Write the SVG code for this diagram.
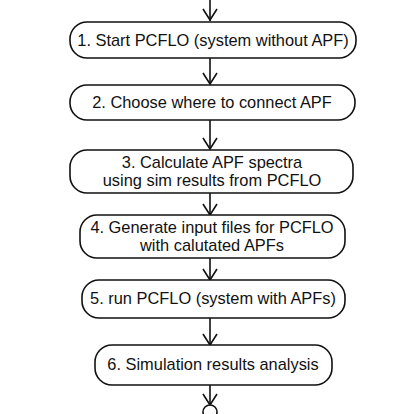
<svg xmlns="http://www.w3.org/2000/svg" width="414" height="414" viewBox="0 0 414 414">
<defs>
<style>
.box{fill:#fff;stroke:#111;stroke-width:1.6}
.t{font-family:"Liberation Sans",Arial,sans-serif;font-size:16.4px;fill:#111;text-anchor:middle}
.c{stroke:#111;stroke-width:1.6;fill:none}
</style>
</defs>
<rect width="414" height="414" fill="#fff"/>
<g id="connectors">
<line class="c" x1="210" y1="0" x2="210" y2="21"/>
<path class="c" d="M203,9 L210,20 L217,9"/>
<line class="c" x1="210" y1="58" x2="210" y2="84"/>
<path class="c" d="M203,73 L210,84 L217,73"/>
<line class="c" x1="210" y1="120" x2="210" y2="149"/>
<path class="c" d="M203,138 L210,149 L217,138"/>
<line class="c" x1="210" y1="193" x2="210" y2="215"/>
<path class="c" d="M203,204 L210,215 L217,204"/>
<line class="c" x1="210" y1="258" x2="210" y2="280"/>
<path class="c" d="M203,269 L210,280 L217,269"/>
<line class="c" x1="210" y1="318" x2="210" y2="345"/>
<path class="c" d="M203,334 L210,345 L217,334"/>
<line class="c" x1="210" y1="385" x2="210" y2="405"/>
<path class="c" d="M203,394 L210,405 L217,394"/>
</g>
<g id="end"><circle class="box" cx="210" cy="412" r="7"/></g>
<g id="n1"><rect class="box" x="70" y="22" width="286" height="36" rx="17"/><text class="t" x="213" y="46">1. Start PCFLO (system without APF)</text></g>
<g id="n2"><rect class="box" x="70" y="85" width="285" height="35" rx="17"/><text class="t" x="212" y="108">2. Choose where to connect APF</text></g>
<g id="n3"><rect class="box" x="70" y="150" width="283" height="43" rx="17"/><text class="t" x="212" y="168">3. Calculate APF spectra</text><text class="t" x="212" y="186">using sim results from PCFLO</text></g>
<g id="n4"><rect class="box" x="80" y="215" width="265" height="43" rx="17"/><text class="t" x="212" y="233">4. Generate input files for PCFLO</text><text class="t" x="212" y="251">with calutated APFs</text></g>
<g id="n5"><rect class="box" x="82" y="280" width="263" height="38" rx="17"/><text class="t" x="213" y="304">5. run PCFLO (system with APFs)</text></g>
<g id="n6"><rect class="box" x="95" y="345" width="237" height="40" rx="17"/><text class="t" x="213" y="370">6. Simulation results analysis</text></g>
</svg>
